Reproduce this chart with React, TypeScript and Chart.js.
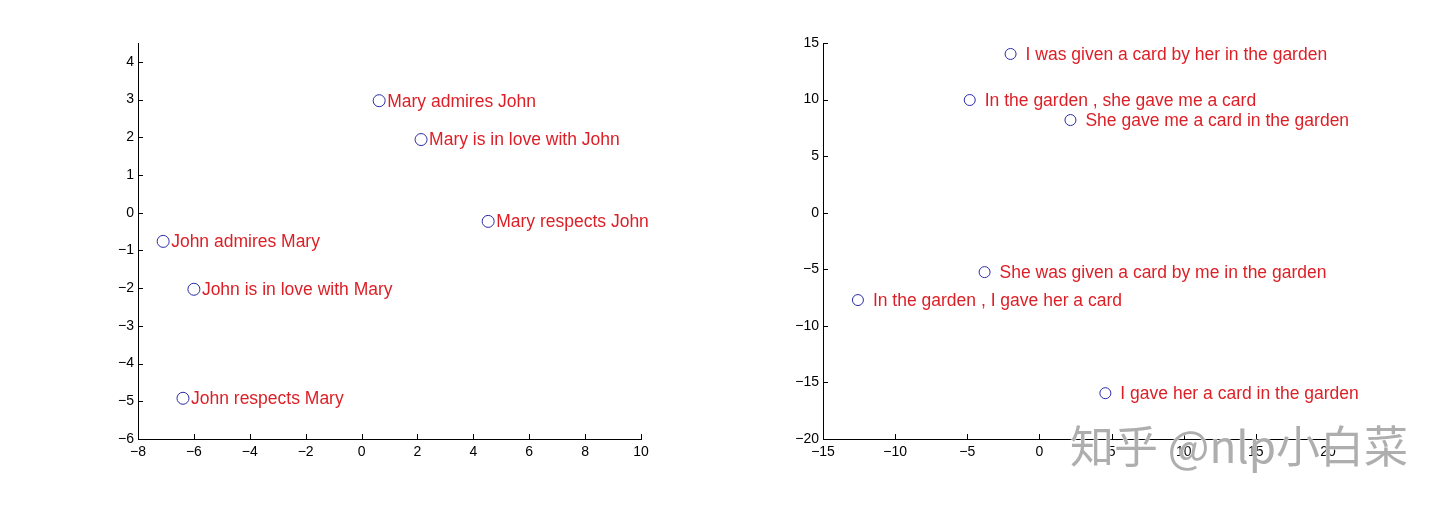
import { useEffect, useRef } from "react";
import { Chart, registerables, type Plugin } from "chart.js";

Chart.register(...registerables);

// left panel: John / Mary sentences
const leftLabels = [
  "Mary admires John",
  "Mary is in love with John",
  "Mary respects John",
  "John admires Mary",
  "John is in love with Mary",
  "John respects Mary",
];
const leftX = [0.63, 2.13, 4.53, -7.1, -6.0, -6.39];
const leftY = [2.97, 1.94, -0.23, -0.76, -2.03, -4.92];
const leftXTicks = [-8, -6, -4, -2, 0, 2, 4, 6, 8, 10];
const leftYTicks = [-6, -5, -4, -3, -2, -1, 0, 1, 2, 3, 4];

// right panel: garden sentences
const rightLabels = [
  "I was given a card by her in the garden",
  "In the garden , she gave me a card",
  "She gave me a card in the garden",
  "She was given a card by me in the garden",
  "In the garden , I gave her a card",
  "I gave her a card in the garden",
];
const rightX = [-2.0, -4.83, 2.15, -3.8, -12.58, 4.57];
const rightY = [14.03, 9.96, 8.19, -5.25, -7.72, -15.95];
const rightXTicks = [-15, -10, -5, 0, 5, 10, 15, 20];
const rightYTicks = [-20, -15, -10, -5, 0, 5, 10, 15];

const FONT = "'Liberation Sans', Arial, Helvetica, sans-serif";
const RED = "#dc1f26";
const BLUE = "#2b2ba6";

const fmt = (v: number | string) => String(v).replace("-", "\u2212");

// MATLAB style ticks drawn inward from the axis lines
const inwardTicks: Plugin<"scatter"> = {
  id: "inwardTicks",
  afterDraw(chart) {
    const { ctx, chartArea } = chart;
    const x = chart.scales.x;
    const y = chart.scales.y;
    ctx.save();
    ctx.strokeStyle = "#000";
    ctx.lineWidth = 1;
    ctx.beginPath();
    x.ticks.forEach((t) => {
      const px = Math.round(x.getPixelForValue(t.value)) + 0.5;
      ctx.moveTo(px, chartArea.bottom);
      ctx.lineTo(px, chartArea.bottom - 5);
    });
    y.ticks.forEach((t) => {
      const py = Math.round(y.getPixelForValue(t.value)) + 0.5;
      ctx.moveTo(chartArea.left, py);
      ctx.lineTo(chartArea.left + 5, py);
    });
    ctx.stroke();
    ctx.restore();
  },
};

interface PanelProps {
  labels: string[];
  xs: number[];
  ys: number[];
  xTicks: number[];
  yTicks: number[];
  yMax: number;
  left: number;
  yAxisWidth: number;
  rightPad: number;
  radius: number;
  labelOffset: number;
}

function ScatterPanel(p: PanelProps) {
  const canvasRef = useRef<HTMLCanvasElement>(null);

  useEffect(() => {
    if (!canvasRef.current) return;

    const pointLabels: Plugin<"scatter"> = {
      id: "pointLabels",
      afterDatasetsDraw(chart) {
        const { ctx } = chart;
        const meta = chart.getDatasetMeta(0);
        ctx.save();
        ctx.font = `17.5px ${FONT}`;
        ctx.fillStyle = RED;
        ctx.textAlign = "left";
        ctx.textBaseline = "middle";
        meta.data.forEach((el, i) => {
          ctx.fillText(p.labels[i], el.x + p.labelOffset, el.y + 1);
        });
        ctx.restore();
      },
    };

    const chart = new Chart(canvasRef.current, {
      type: "scatter",
      data: {
        datasets: [
          {
            data: p.xs.map((x, i) => ({ x, y: p.ys[i] })),
            pointStyle: "circle",
            pointRadius: p.radius,
            pointBackgroundColor: "rgba(0,0,0,0)",
            pointBorderColor: BLUE,
            pointBorderWidth: 1,
            showLine: false,
          },
        ],
      },
      options: {
        animation: false,
        responsive: true,
        maintainAspectRatio: false,
        layout: { padding: { left: 0, top: 43, right: p.rightPad, bottom: 0 } },
        plugins: {
          legend: { display: false },
          tooltip: { enabled: false },
        },
        scales: {
          x: {
            type: "linear",
            position: "bottom",
            min: p.xTicks[0],
            max: p.xTicks[p.xTicks.length - 1],
            grid: { display: false, drawTicks: false },
            border: { display: true, color: "#000", width: 1 },
            ticks: {
              padding: 5,
              color: "#000",
              font: { family: FONT, size: 14 },
              maxRotation: 0,
              autoSkip: false,
              callback: (v) => fmt(v),
            },
            afterBuildTicks: (scale) => {
              scale.ticks = p.xTicks.map((value) => ({ value }));
            },
            afterFit: (scale) => {
              scale.height = 75;
            },
          },
          y: {
            type: "linear",
            min: p.yTicks[0],
            max: p.yMax,
            grid: { display: false, drawTicks: false },
            border: { display: true, color: "#000", width: 1 },
            ticks: {
              padding: 4,
              color: "#000",
              font: { family: FONT, size: 14 },
              autoSkip: false,
              callback: (v) => fmt(v),
            },
            afterBuildTicks: (scale) => {
              scale.ticks = p.yTicks.map((value) => ({ value }));
            },
            afterFit: (scale) => {
              scale.width = p.yAxisWidth;
            },
          },
        },
      },
      plugins: [inwardTicks, pointLabels],
    });

    return () => {
      chart.destroy();
    };
  }, [p]);

  return (
    <div style={{ position: "absolute", left: p.left, top: 0, width: 720, height: 514 }}>
      <canvas ref={canvasRef} />
    </div>
  );
}

const leftPanel: PanelProps = {
  labels: leftLabels,
  xs: leftX,
  ys: leftY,
  xTicks: leftXTicks,
  yTicks: leftYTicks,
  yMax: 4.5,
  left: 0,
  yAxisWidth: 138,
  rightPad: 79,
  radius: 6,
  labelOffset: 8,
};

const rightPanel: PanelProps = {
  labels: rightLabels,
  xs: rightX,
  ys: rightY,
  xTicks: rightXTicks,
  yTicks: rightYTicks,
  yMax: 15,
  left: 720,
  yAxisWidth: 103,
  rightPad: 112,
  radius: 5.5,
  labelOffset: 15,
};

export default function App() {
  return (
    <div
      style={{
        position: "absolute",
        left: 0,
        top: 0,
        width: 1440,
        height: 514,
        background: "#fff",
        overflow: "hidden",
      }}
    >
      <ScatterPanel {...leftPanel} />
      <ScatterPanel {...rightPanel} />
      <div
        style={{
          position: "absolute",
          left: 1070,
          top: 422,
          fontFamily: "'Noto Sans CJK SC', sans-serif",
          fontSize: 44,
          lineHeight: 1,
          whiteSpace: "nowrap",
          color: "rgba(160,160,160,0.85)",
          textShadow: "0 0 2px #fff, 0 0 1px #fff",
          pointerEvents: "none",
        }}
      >
        知乎 @nlp小白菜
      </div>
    </div>
  );
}
